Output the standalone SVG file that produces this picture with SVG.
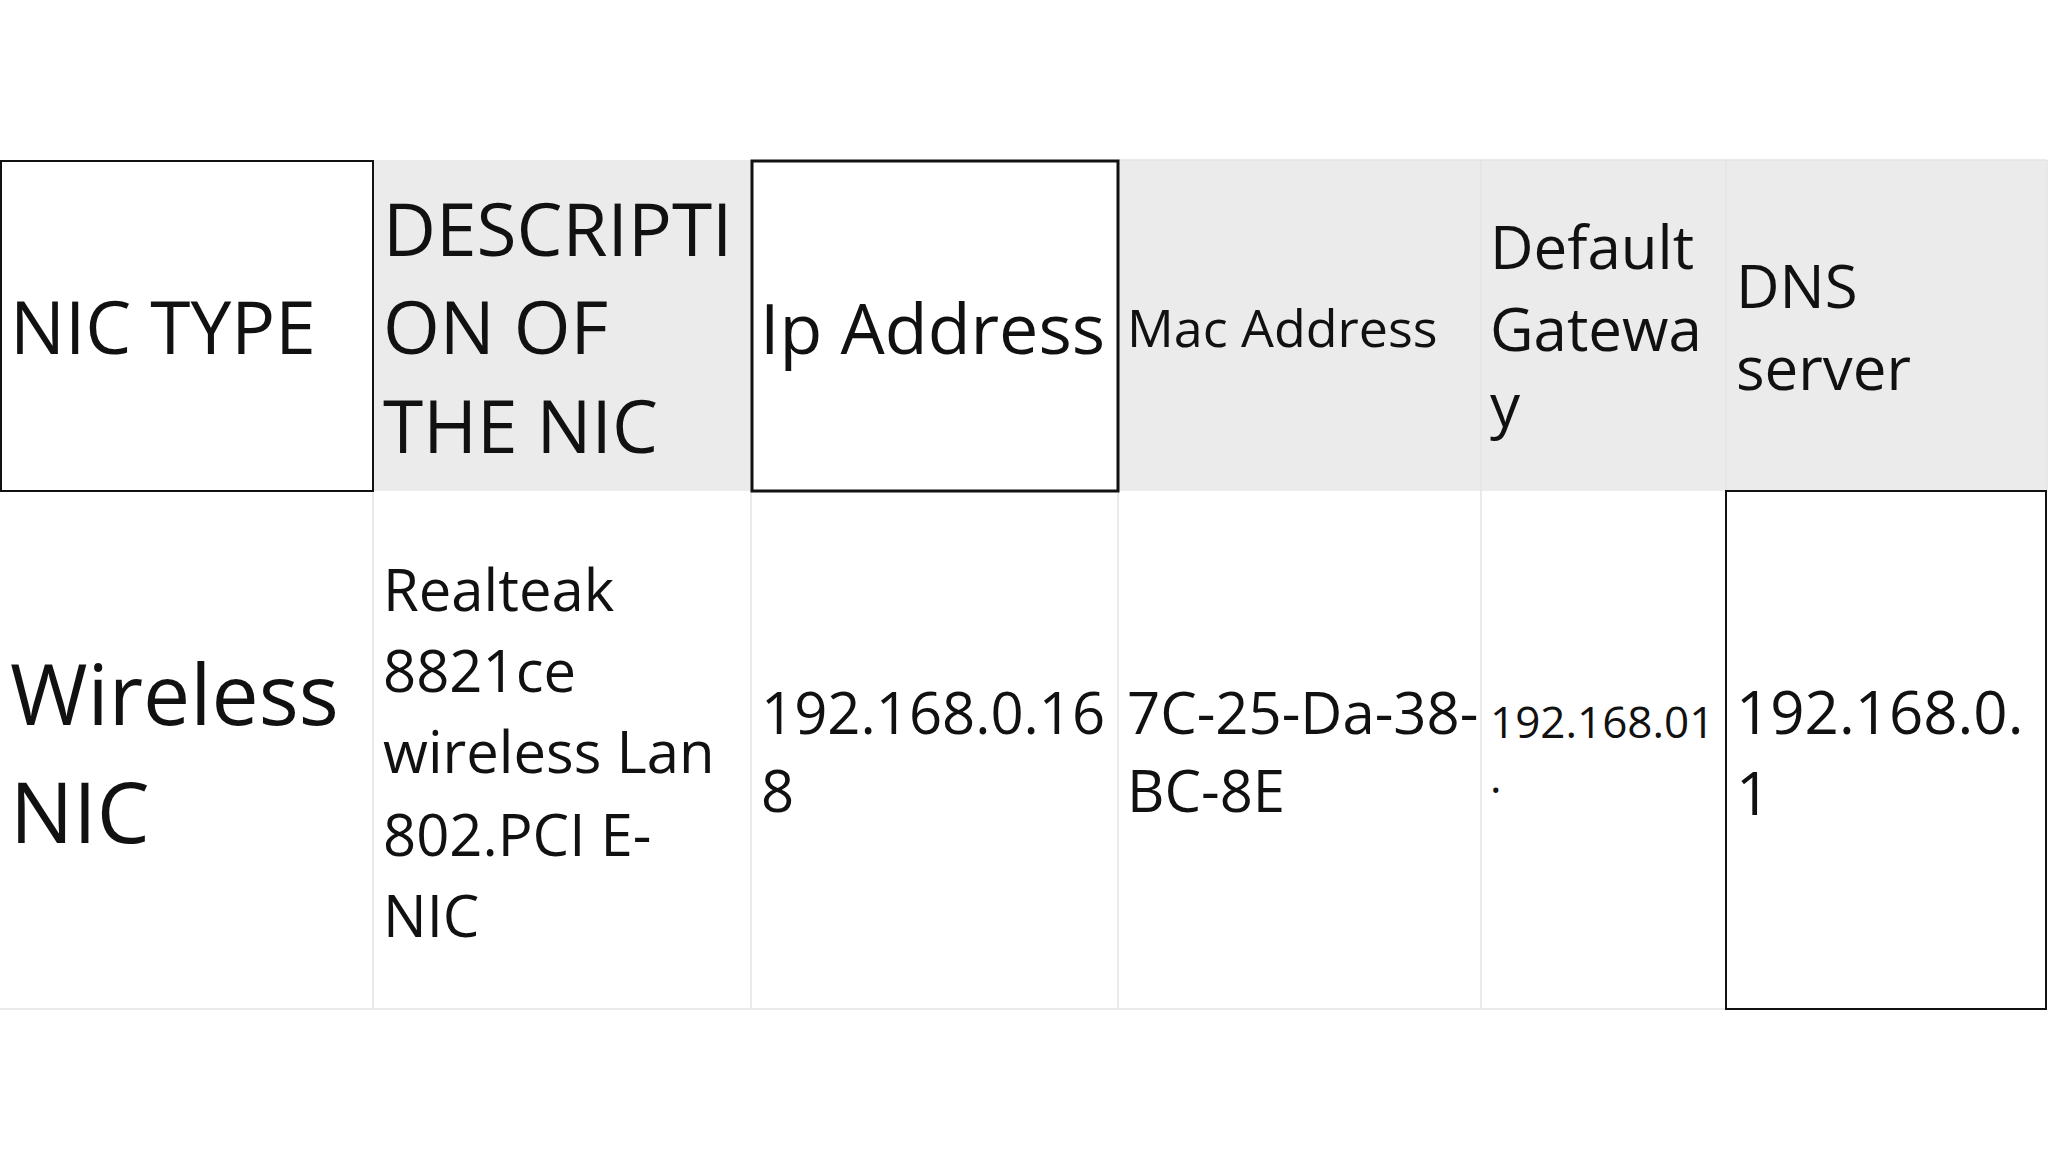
<svg xmlns="http://www.w3.org/2000/svg" width="2048" height="1152" viewBox="0 0 2048 1152">
<style>
text{font-family:"Open Sans","Noto Sans",sans-serif;fill:#111}
.g{fill:#ebebeb}
.l{stroke:#e4e4e4;stroke-width:1.5;fill:none}
.b{stroke:#111;stroke-width:2;fill:none}
</style>
<rect width="2048" height="1152" fill="#fff"/>
<g id="grid">
<rect class="g" x="373" y="160" width="378" height="331"/>
<rect class="g" x="1118" y="160" width="929" height="331"/>
<path class="l" d="M0 1009H2047M373 491V1009M751 491V1009M1118 160V1009M1481 160V1009M1726 160V491M1118 160H2047M2047 160V491"/>
</g>
<g id="h1"><rect class="b" x="1" y="161" width="372" height="330"/><text x="10" y="354" font-size="73">NIC TYPE</text></g>
<g id="h2"><text font-size="73"><tspan x="383" y="256">DESCRIPTI</tspan><tspan x="383" y="354">ON OF</tspan><tspan x="383" y="453">THE NIC</tspan></text></g>
<g id="h3"><rect x="752" y="161" width="366" height="330" fill="none" stroke="#111" stroke-width="3"/><text x="760" y="354" font-size="70">Ip Address</text></g>
<g id="h4"><text x="1127" y="347" font-size="52">Mac Address</text></g>
<g id="h5"><text font-size="60"><tspan x="1490" y="269">Default</tspan><tspan x="1490" y="351">Gatewa</tspan><tspan x="1490" y="427">y</tspan></text></g>
<g id="h6"><text font-size="60"><tspan x="1736" y="308">DNS</tspan><tspan x="1736" y="390">server</tspan></text></g>
<g id="c1"><text font-size="84"><tspan x="10" y="725">Wireless</tspan><tspan x="10" y="843">NIC</tspan></text></g>
<g id="c2"><text font-size="58"><tspan x="383" y="611">Realteak</tspan><tspan x="383" y="692">8821ce</tspan><tspan x="383" y="773">wireless Lan</tspan><tspan x="383" y="856">802.PCI E-</tspan><tspan x="383" y="937">NIC</tspan></text></g>
<g id="c3"><text font-size="58"><tspan x="761" y="734">192.168.0.16</tspan><tspan x="761" y="812">8</tspan></text></g>
<g id="c4"><text font-size="58"><tspan x="1127" y="734">7C-25-Da-38-</tspan><tspan x="1127" y="812">BC-8E</tspan></text></g>
<g id="c5"><text font-size="44"><tspan x="1490" y="738">192.168.01</tspan><tspan x="1490" y="793">.</tspan></text></g>
<g id="c6"><rect class="b" x="1726" y="491" width="320" height="518"/><text font-size="60"><tspan x="1736" y="734">192.168.0.</tspan><tspan x="1736" y="815">1</tspan></text></g>
</svg>
